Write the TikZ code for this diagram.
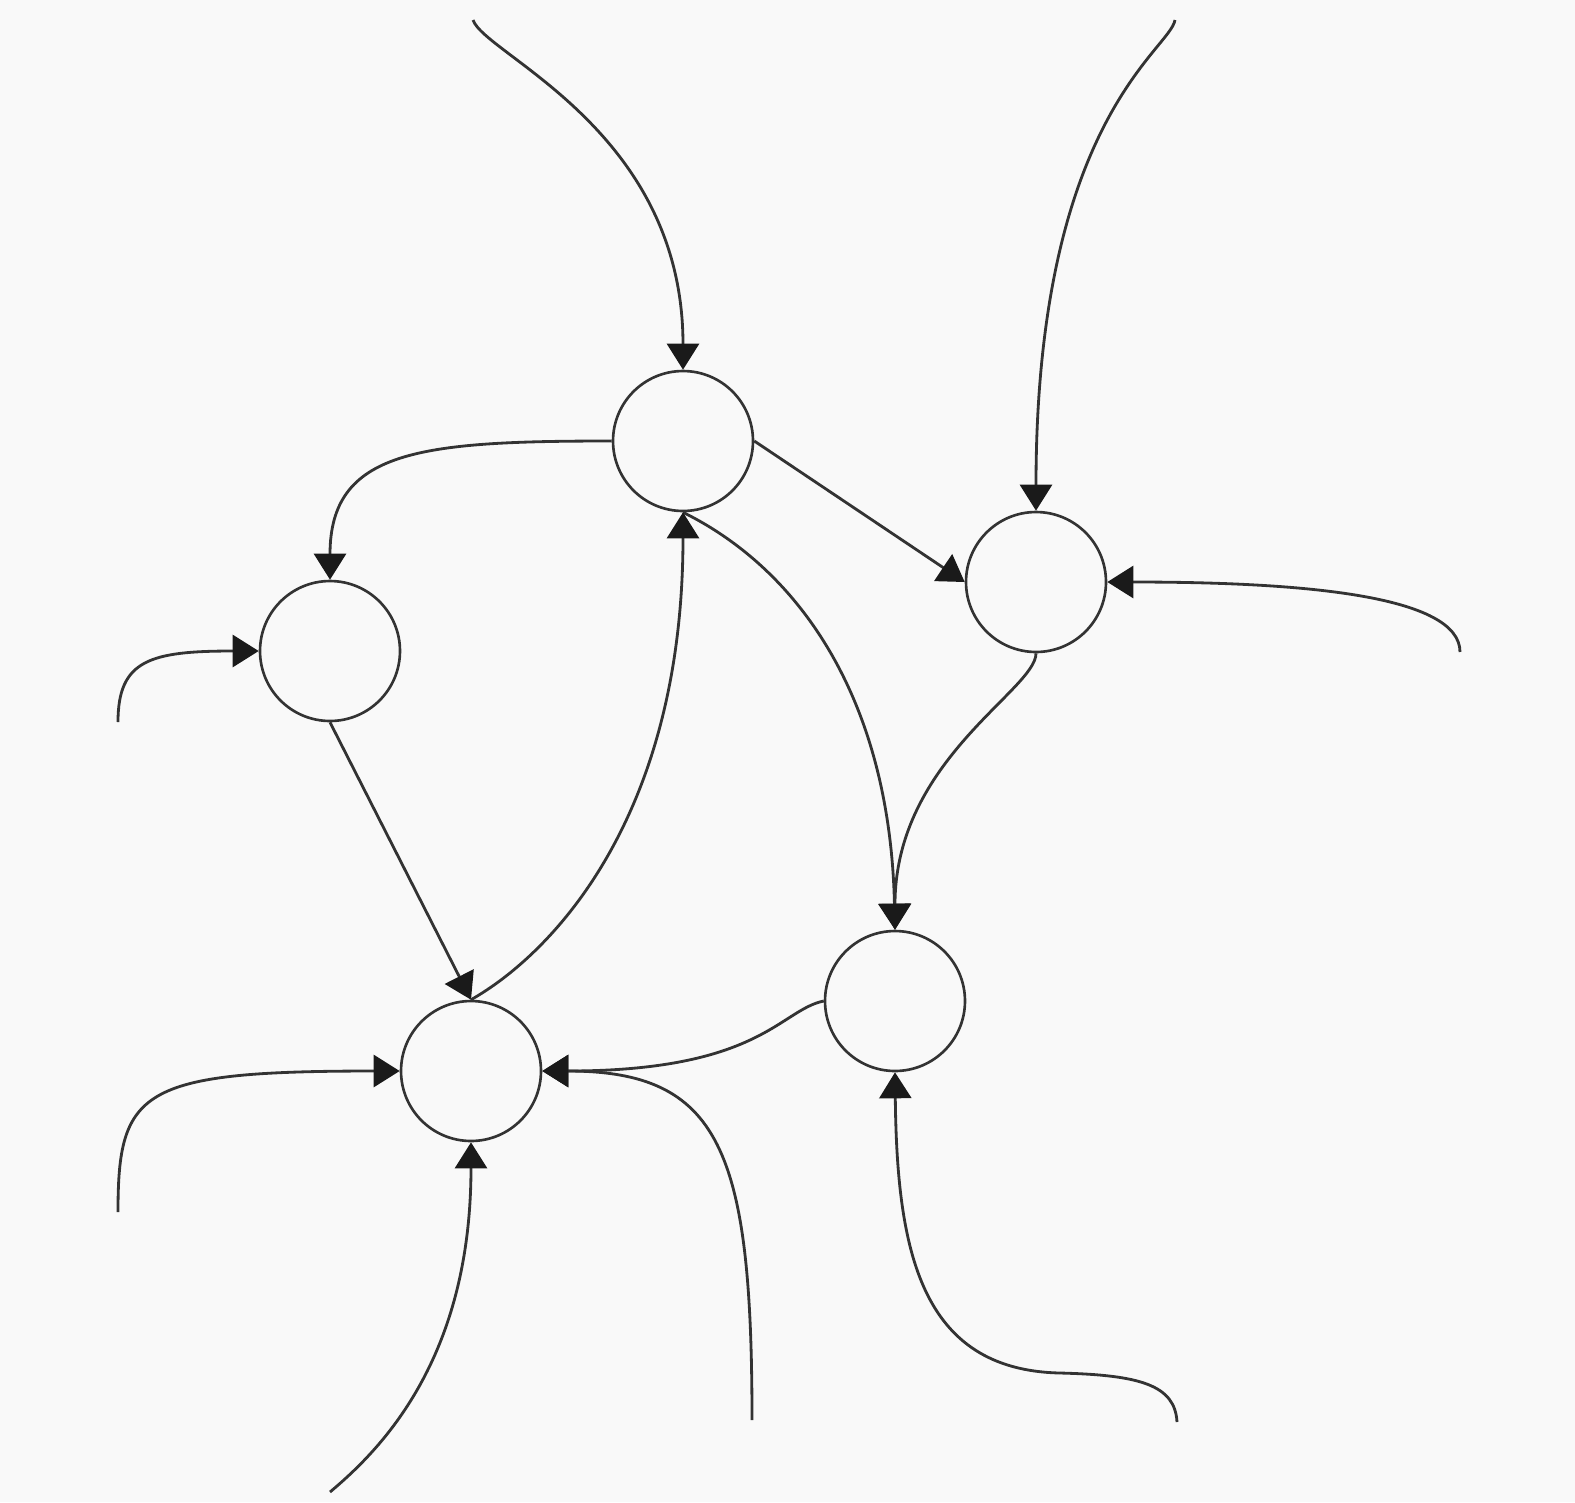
\documentclass[tikz,border=0pt]{standalone}
\usetikzlibrary{arrows.meta}
\definecolor{bg}{RGB}{249,249,249}
\definecolor{ln}{RGB}{51,51,51}
\definecolor{tip}{RGB}{26,26,26}
\begin{document}
\begin{tikzpicture}[x=0.02cm,y=-0.02cm,
  state/.style={circle,draw=ln,line width=1.5pt,minimum size=2.8cm,inner sep=0pt,fill=bg},
  edge/.style={draw=ln,line width=1.6pt,-{Triangle[length=0.52cm,width=0.64cm,color=tip]}},
  plain/.style={draw=ln,line width=1.6pt}]
\fill[bg] (0,0) rectangle (1575,1502);
\useasboundingbox (0,0) rectangle (1575,1502);
\node[state] (A) at (683,441) {};
\node[state] (B) at (1036,582) {};
\node[state] (C) at (330,651) {};
\node[state] (D) at (895,1001) {};
\node[state] (E) at (471,1071) {};
\coordinate (s1) at (473,20);
\coordinate (s2) at (1175,20);
\coordinate (s3) at (1460,652);
\coordinate (s4) at (118,722);
\coordinate (s5) at (118,1212);
\coordinate (s6) at (330,1492);
\coordinate (s7) at (752,1420);
\coordinate (s8) at (1177,1422);
\coordinate (m8) at (1060,1373);
% edges
\draw[edge] (s1) .. controls (485,55) and (683,130) .. (A.north);
\draw[edge] (s2) .. controls (1170,50) and (1036,120) .. (B.north);
\draw[edge] (A.west) .. controls (420,441) and (330,450) .. (C.north);
\draw[edge] (A.east) -- (B.west);
\draw[edge] (s3) .. controls (1460,595) and (1300,582) .. (B.east);
\draw[edge] (s4) .. controls (118,660) and (150,651) .. (C.west);
\draw[edge] (C.south) -- (E.north);
\draw[edge] (A.south) .. controls (800,570) and (890,700) .. (D.north);
\draw[edge] (B.south) .. controls (1036,690) and (895,760) .. (D.north);
\draw[edge] (E.north) .. controls (550,955) and (683,820) .. (A.south);
\draw[edge] (D.west) .. controls (780,1010) and (760,1071) .. (E.east);
\draw[edge] (s7) .. controls (752,1150) and (720,1071) .. (E.east);
\draw[edge] (s5) .. controls (118,1090) and (140,1071) .. (E.west);
\draw[edge] (s6) .. controls (380,1450) and (471,1360) .. (E.south);
\draw[plain] (s8) .. controls (1175,1385) and (1140,1375) .. (m8);
\draw[edge] (m8) .. controls (920,1370) and (897,1250) .. (D.south);
\end{tikzpicture}
\end{document}
